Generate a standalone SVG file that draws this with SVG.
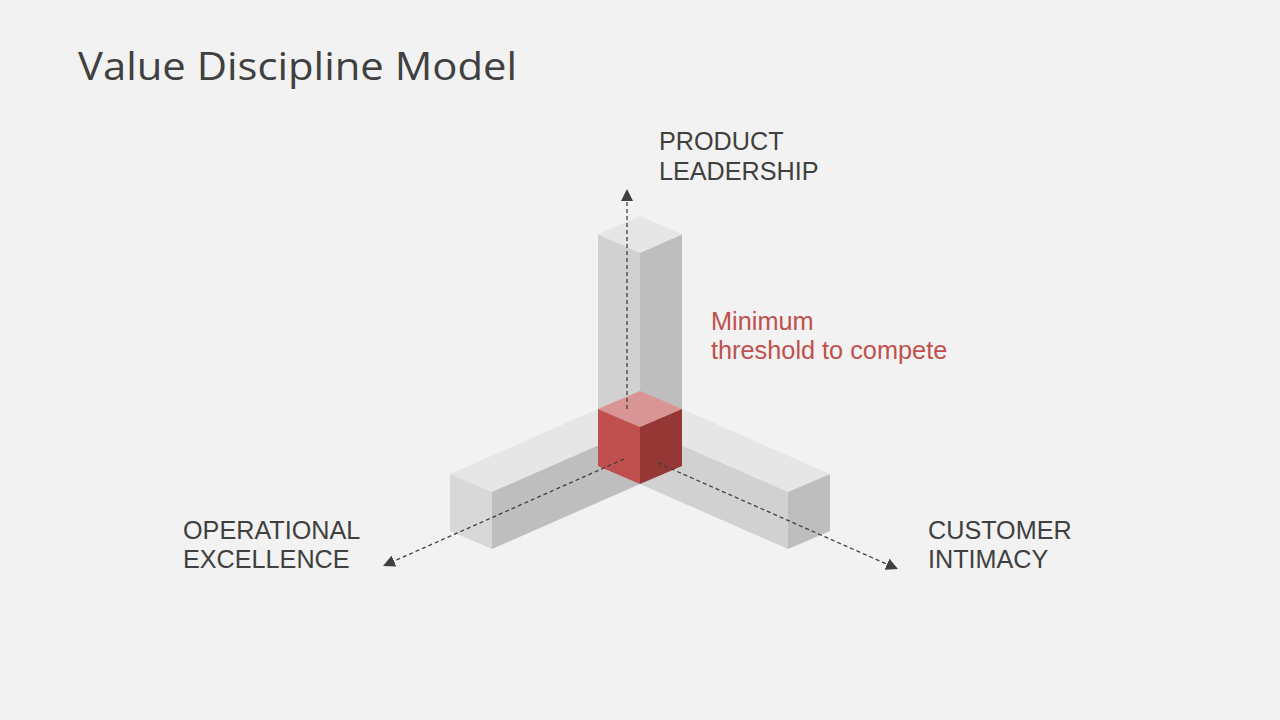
<svg xmlns="http://www.w3.org/2000/svg" width="1280" height="720" viewBox="0 0 1280 720">
  <style>
    .title { font-family: "Open Sans", "Liberation Sans", sans-serif; font-size: 39px; fill: #404040; }
    .label { font-family: "Liberation Sans", Arial, sans-serif; font-size: 25.2px; fill: #404040; }
    .note { font-family: "Liberation Sans", Arial, sans-serif; font-size: 25.3px; fill: #C0504D; }
    .top { fill: #E6E6E6; }
    .lface { fill: #D1D1D1; }
    .lend { fill: #D8D8D8; }
    .rface { fill: #BEBEBE; }
    .axis { fill: none; stroke: #404040; stroke-width: 1.3; stroke-dasharray: 4 3; }
  </style>
  <defs>
    <marker id="arrow" viewBox="0 0 12 12" refX="0" refY="6" markerWidth="12" markerHeight="12" markerUnits="userSpaceOnUse" orient="auto">
      <path d="M0,0 L12,6 L0,12 z" fill="#404040"/>
    </marker>
  </defs>
  <rect x="0" y="0" width="1280" height="720" fill="#F2F2F2"/>

  <text class="title" x="78" y="80" textLength="439" lengthAdjust="spacingAndGlyphs">Value Discipline Model</text>

  <g id="left-arm">
    <polygon class="top" points="598,409 450,474 492,492 640,427"/>
    <polygon class="lend" points="450,474 492,492 492,549 450,531"/>
    <polygon class="rface" points="492,492 640,427 640,484 492,549"/>
  </g>

  <g id="right-arm">
    <polygon class="top" points="682,409 830,474 788,492 640,427"/>
    <polygon class="lface" points="640,427 788,492 788,549 640,484"/>
    <polygon class="rface" points="830,474 788,492 788,549 830,531"/>
  </g>

  <g id="pillar">
    <polygon class="top" points="640,216 598,234.5 640,253 682,234.5"/>
    <polygon class="lface" points="598,234.5 640,253 640,427 598,409"/>
    <polygon class="rface" points="640,253 682,234.5 682,409 640,427"/>
  </g>

  <g id="threshold-cube">
    <polygon fill="#D99594" points="640,391 598,409 640,427 682,409"/>
    <polygon fill="#C0504D" points="598,409 640,427 640,484 598,466"/>
    <polygon fill="#953735" points="640,427 682,409 682,466 640,484"/>
  </g>

  <g id="connectors">
    <line class="axis" x1="627" y1="409" x2="627" y2="201" marker-end="url(#arrow)"/>
    <line class="axis" x1="624" y1="459" x2="394" y2="561.1" marker-end="url(#arrow)"/>
    <line class="axis" x1="658" y1="463" x2="887" y2="564.2" marker-end="url(#arrow)"/>
  </g>

  <g id="label-product">
    <text class="label" x="659" y="149.5">PRODUCT</text>
    <text class="label" x="659" y="179.5">LEADERSHIP</text>
  </g>
  <g id="label-threshold">
    <text class="note" x="711" y="330">Minimum</text>
    <text class="note" x="711" y="359">threshold to compete</text>
  </g>
  <g id="label-operational">
    <text class="label" x="183" y="538.5">OPERATIONAL</text>
    <text class="label" x="183" y="567.5">EXCELLENCE</text>
  </g>
  <g id="label-customer">
    <text class="label" x="928" y="538.5">CUSTOMER</text>
    <text class="label" x="928" y="567.5">INTIMACY</text>
  </g>
</svg>
